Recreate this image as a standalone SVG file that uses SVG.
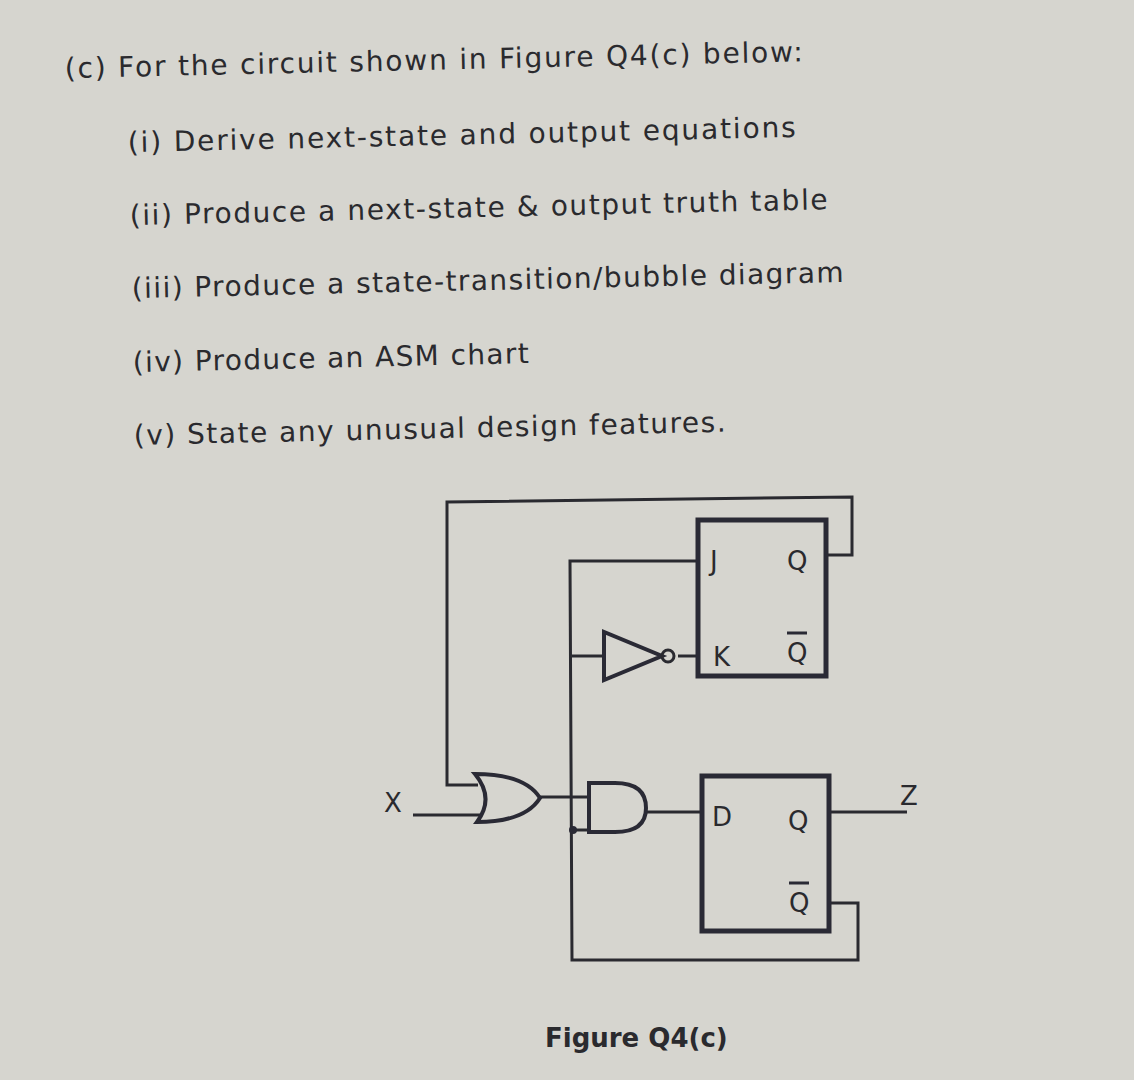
<svg xmlns="http://www.w3.org/2000/svg" width="1134" height="1080" viewBox="0 0 1134 1080">
<style>
.t{font-family:"DejaVu Sans",sans-serif;font-size:28px;fill:#2a2a2e}
.l{font-family:"DejaVu Sans",sans-serif;font-size:26px;fill:#2a2a2e}
.w{fill:none;stroke:#2a2a30;stroke-width:3}
.b{fill:none;stroke:#2a2a35;stroke-width:5}
.g{fill:none;stroke:#2a2a35;stroke-width:4}
</style>
<rect width="1134" height="1080" fill="#d6d5cf"/>
<text class="t" x="65" y="78" textLength="738" transform="rotate(-1.3 65 78)">(c) For the circuit shown in Figure Q4(c) below:</text>
<text class="t" x="128" y="152" textLength="668" transform="rotate(-1.3 128 152)">(i)  Derive next-state and output equations</text>
<text class="t" x="130" y="225" textLength="698" transform="rotate(-1.3 130 225)">(ii)  Produce a next-state &amp; output truth table</text>
<text class="t" x="132" y="298" textLength="712" transform="rotate(-1.3 132 298)">(iii) Produce a state-transition/bubble diagram</text>
<text class="t" x="133" y="372" textLength="396" transform="rotate(-1.3 133 372)">(iv) Produce an ASM chart</text>
<text class="t" x="134" y="445" textLength="592" transform="rotate(-1.3 134 445)">(v)  State any unusual design features.</text>
<g id="connectors">
<polyline class="w" points="827,555 852,555 852,497 447,502 447,785 478,785"/>
<polyline class="w" points="696,561 570,561 572,960 858,960 858,903 830,903"/>
<polyline class="w" points="572,656 604,656"/>
<polyline class="w" points="678,656 696,656"/>
<polyline class="w" points="413,815 480,815"/>
<polyline class="w" points="539,797 589,797"/>
<polyline class="w" points="572,830 589,830"/>
<polyline class="w" points="646,812 701,812"/>
<polyline class="w" points="830,812 907,812"/>
<circle cx="573" cy="830" r="4" fill="#2a2a35"/>
</g>
<g id="jk"><rect class="b" x="698" y="520" width="128" height="156"/>
<text class="l" x="710" y="570">J</text><text class="l" x="787" y="570">Q</text>
<text class="l" x="713" y="666">K</text><text class="l" x="787" y="662">Q</text>
<line x1="787" y1="633" x2="807" y2="633" stroke="#2a2a35" stroke-width="3"/></g>
<g id="not"><polygon class="g" points="604,632 604,680 662,656"/><circle class="w" cx="668" cy="656" r="6"/></g>
<g id="or"><path class="g" d="M475,774 Q495,798 477,822 Q525,822 540,798 Q525,774 475,774Z"/></g>
<g id="and"><path class="g" d="M589,783 L615,783 Q646,783 646,808 Q646,832 615,832 L589,832Z"/></g>
<g id="d"><rect class="b" x="702" y="776" width="127" height="155"/>
<text class="l" x="712" y="826">D</text><text class="l" x="788" y="830">Q</text>
<text class="l" x="789" y="912">Q</text>
<line x1="789" y1="883" x2="809" y2="883" stroke="#2a2a35" stroke-width="3"/></g>
<text class="l" x="384" y="812">X</text>
<text class="l" x="900" y="805" font-size="20">Z</text>
<text x="545" y="1047" style="font-family:'DejaVu Sans',sans-serif;font-size:26px;font-weight:bold;fill:#2a2a2e">Figure Q4(c)</text>
</svg>
